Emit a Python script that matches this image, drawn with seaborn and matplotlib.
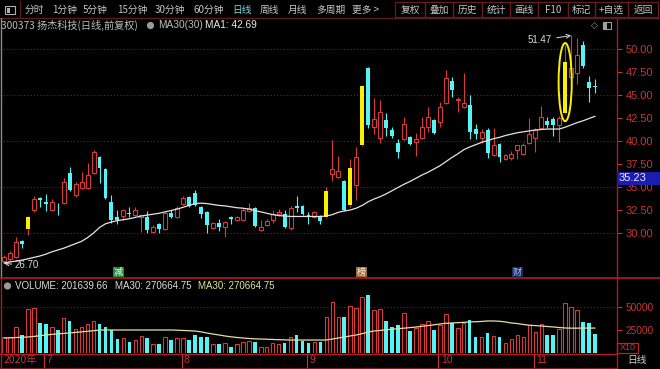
import matplotlib
matplotlib.use("Agg")
import matplotlib.pyplot as plt
from matplotlib.patches import Ellipse, Rectangle, Circle
import seaborn as sns
import numpy as np

# 300373 扬杰科技, daily bars (forward adjusted), late Jun .. mid Nov 2020
opens = [27.0, 27.2, 27.4, 29.1, 30.4, 32.5, 33.8, 33.4, 32.5, 33.2,
         33.3, 36.5, 34.1, 34.9, 34.9, 36.5, 38.3, 37.0, 33.4, 31.7,
         31.8, 32.2, 32.0, 31.7, 31.7, 30.1, 31.0, 30.4, 32.2, 31.7,
         33.1, 33.9, 34.4, 32.8, 32.3, 30.5, 31.1, 30.7, 31.7, 31.4,
         31.4, 32.4, 32.7, 30.3, 30.9, 31.4, 32.1, 32.1, 30.5, 32.9,
         32.9, 32.0, 31.7, 31.9, 31.7, 36.4, 36.1, 35.7, 33.0, 35.2,
         39.6, 47.9, 41.5, 40.3, 42.3, 41.2, 39.8, 40.2, 40.4, 39.9,
         40.3, 41.5, 42.3, 42.1, 44.1, 46.5, 44.5, 43.7, 43.9, 41.3,
         40.3, 41.2, 38.5, 39.7, 38.0, 38.2, 39.0, 38.6, 39.8, 40.3,
         41.4, 42.2, 42.4, 41.7, 43.0, 47.0, 47.4, 50.4, 46.4, 46.0]
closes = [27.4, 27.8, 29.0, 28.8, 31.7, 33.7, 33.6, 33.2, 33.4, 33.1,
          35.5, 34.7, 35.3, 35.5, 36.3, 38.8, 37.1, 33.8, 31.4, 31.4,
          32.5, 32.1, 32.5, 31.95, 30.3, 30.7, 30.4, 32.2, 31.7, 32.7,
          33.8, 32.9, 33.0, 32.1, 30.9, 31.1, 30.7, 31.2, 31.5, 31.7,
          32.5, 32.7, 30.8, 30.65, 31.3, 32.1, 32.3, 30.7, 32.7, 32.7,
          32.1, 31.7, 32.3, 31.3, 34.6, 37.0, 36.7, 32.5, 37.1, 38.3,
          46.0, 41.7, 42.4, 43.2, 41.4, 40.5, 38.8, 41.8, 39.7, 40.2,
          41.5, 42.6, 40.9, 43.7, 46.8, 45.5, 44.6, 44.1, 41.0, 40.8,
          41.0, 38.7, 39.6, 38.3, 38.5, 38.6, 39.6, 39.6, 40.8, 41.2,
          42.6, 41.7, 41.7, 42.5, 48.6, 47.9, 49.3, 48.2, 45.8, 45.9]
highs = [27.6, 28.0, 29.6, 29.2, 31.8, 34.0, 33.9, 34.2, 33.7, 33.3,
         36.0, 37.2, 35.5, 36.6, 37.6, 39.0, 38.4, 37.1, 34.1, 32.5,
         32.6, 32.8, 32.8, 32.0, 32.4, 30.9, 31.1, 32.3, 32.5, 32.9,
         34.0, 34.0, 34.7, 32.9, 32.4, 31.2, 31.5, 31.3, 31.8, 31.8,
         32.7, 33.3, 32.8, 31.4, 31.5, 32.5, 32.6, 32.5, 32.9, 34.0,
         33.0, 32.3, 32.4, 32.0, 35.0, 40.1, 38.4, 35.8, 38.0, 39.3,
         46.1, 48.0, 44.7, 44.5, 43.0, 41.5, 40.2, 42.6, 40.5, 40.9,
         42.6, 43.7, 42.4, 44.2, 47.7, 47.0, 44.8, 47.4, 45.0, 41.8,
         41.3, 41.4, 41.4, 39.8, 38.6, 38.9, 39.6, 39.8, 42.5, 41.4,
         43.8, 42.6, 42.6, 42.7, 50.4, 51.47, 51.2, 50.9, 47.1, 46.7]
lows = [26.70, 27.0, 27.3, 28.4, 29.8, 32.3, 32.8, 32.4, 32.4, 32.0,
        33.2, 34.6, 33.9, 34.8, 34.8, 36.4, 35.4, 33.7, 31.1, 31.0,
        31.4, 31.7, 31.9, 30.1, 30.0, 30.0, 30.0, 30.3, 31.6, 31.6,
        33.0, 32.8, 32.9, 31.6, 30.0, 30.4, 30.2, 29.6, 31.0, 31.3,
        31.3, 32.3, 30.7, 30.2, 30.8, 31.1, 31.8, 30.6, 30.3, 32.3,
        32.0, 31.0, 31.6, 31.0, 31.6, 35.7, 36.0, 32.4, 32.8, 33.6,
        39.5, 41.4, 40.8, 39.8, 40.5, 40.3, 38.2, 40.1, 39.6, 38.4,
        40.2, 41.0, 40.8, 41.5, 44.0, 44.8, 43.1, 43.6, 40.2, 40.2,
        39.8, 38.1, 38.4, 37.7, 37.9, 37.9, 38.0, 38.5, 39.7, 38.8,
        41.3, 41.4, 40.5, 39.9, 42.9, 45.0, 46.2, 47.9, 44.2, 45.2]
# bars the terminal paints yellow
yellow_days = [4, 54, 58, 60, 94]

ma30 = [26.74, 26.85, 26.95, 27.05, 27.2, 27.35, 27.5, 27.7, 27.95, 28.15,
        28.35, 28.6, 28.85, 29.1, 29.5, 30.0, 30.6, 31.0, 31.2, 31.35,
        31.45, 31.55, 31.7, 31.85, 31.95, 32.05, 32.15, 32.3, 32.45, 32.6,
        32.8, 33.0, 33.2, 33.25, 33.2, 33.1, 33.0, 32.95, 32.85, 32.75,
        32.7, 32.6, 32.45, 32.3, 32.15, 32.0, 31.9, 31.85, 31.8, 31.8,
        31.8, 31.8, 31.8, 31.8, 31.85, 32.0, 32.25, 32.4, 32.5, 32.7,
        33.0, 33.4, 33.7, 33.95, 34.25, 34.6, 34.95, 35.3, 35.6, 35.95,
        36.3, 36.6, 36.95, 37.3, 37.75, 38.2, 38.6, 39.05, 39.35, 39.6,
        39.85, 40.05, 40.25, 40.4, 40.6, 40.75, 40.9, 41.0, 41.1, 41.2,
        41.25, 41.3, 41.3, 41.3, 41.5, 41.75, 42.0, 42.2, 42.45, 42.69]

# volume in units of 10 shares (axis shows X10)
volume = [17700, 17700, 28600, 19600, 47500, 48600, 32300, 31500, 27900, 25000,
          37700, 34800, 25700, 28600, 31200, 34800, 31500, 27900, 25000, 14900,
          16000, 12300, 14100, 18500, 16000, 9800, 9800, 17700, 14100, 16000,
          16000, 14100, 19600, 17700, 17700, 9800, 9800, 11200, 6900, 9800,
          12300, 13400, 12300, 6900, 6900, 10500, 9800, 11200, 17700, 19600,
          13400, 11200, 12300, 12300, 39500, 55100, 39500, 39500, 51100, 48600,
          60500, 63000, 46700, 47500, 35100, 27900, 30400, 43100, 24300, 26800,
          31500, 35100, 25000, 30400, 42400, 33000, 26800, 33000, 35900, 17700,
          17700, 22100, 18500, 17000, 11200, 14900, 19600, 17000, 30400, 23200,
          31500, 19600, 19600, 25700, 54000, 49700, 46700, 34000, 33000, 20164]
vol_ma30 = [16300, 16500, 16800, 17100, 17400, 18000, 18800, 19600, 20200, 20800,
            21300, 21800, 22400, 23000, 23600, 24200, 25000, 25000, 25000, 25000,
            25000, 25000, 25000, 25000, 25000, 25000, 25000, 25000, 25000, 24800,
            24500, 24200, 23900, 23000, 21700, 20600, 19600, 18500, 17600, 16900,
            16300, 15800, 15400, 15200, 15000, 14700, 14500, 14300, 14100, 14100,
            14100, 14100, 14100, 14100, 14100, 15200, 16300, 17400, 18500, 19600,
            21000, 22800, 23900, 24500, 25200, 25800, 26400, 27000, 27600, 28200,
            29000, 29800, 30600, 31500, 32300, 32600, 33000, 33300, 33700, 34000,
            34300, 34800, 34800, 34500, 33700, 32600, 32000, 31000, 30200, 29800,
            29300, 28800, 28300, 27700, 27200, 27000, 27000, 27100, 27100, 27066]

month_start = [7, 30, 51, 73, 89]
month_labels = ["7", "8", "9", "10", "11"]
price_ticks = [30.0, 32.5, 35.0, 37.5, 40.0, 42.5, 45.0, 47.5, 50.0]
price_grid = [30, 35, 40, 45, 50]
vol_ticks = [25000, 50000]

toolbar_left = ["分时", "1分钟", "5分钟", "15分钟", "30分钟", "60分钟", "日线", "周线", "月线", "多周期", "更多 >"]
toolbar_right = ["复权", "叠加", "历史", "统计", "画线", "F10", "标记", "+自选", "返回"]

BG = "black"
RED = "#d63a3a"
CYAN = "#52f4f4"
YELLOW = "#f8f000"
GRID_RED = "#7a1c1c"
AXIS_RED = "#c83434"
CJK = ["Noto Sans CJK SC", "DejaVu Sans"]
NUM = ["Liberation Sans", "DejaVu Sans"]

sns.set_theme(style="dark", rc={"axes.facecolor": BG, "figure.facecolor": BG,
                                "savefig.facecolor": BG})
plt.rcParams["font.family"] = CJK

W, H = 660, 369


def box(x0, y0, x1, y1):
    return [x0 / W, 1 - y1 / H, (x1 - x0) / W, (y1 - y0) / H]


fig = plt.figure(figsize=(W / 100, H / 100), dpi=100)
ax_p = fig.add_axes(box(0, 18, 617, 277))
ax_v = fig.add_axes(box(0, 277, 617, 353), sharex=ax_p)
ax_d = fig.add_axes(box(0, 353, 617, 369), sharex=ax_p)
ov = fig.add_axes([0, 0, 1, 1], zorder=10)
ov.set_xlim(0, W)
ov.set_ylim(H, 0)
ov.axis("off")
ov.patch.set_alpha(0)

x = np.arange(len(closes))
o, h, l, c = (np.array(a) for a in (opens, highs, lows, closes))
lo = np.minimum(o, c)
hi = np.maximum(o, c)
bh = np.maximum(hi - lo, 0.08)
is_y = np.isin(x, yellow_days)
up = (c >= o) & ~is_y
dn = (c < o) & ~is_y
bw = 0.66

# ---- price panel
for lev in price_grid:
    ax_p.axhline(lev, color=GRID_RED, lw=0.8, ls=(0, (1, 2)), zorder=0)

# wicks
red_w = up | is_y
ax_p.vlines(x[red_w], l[red_w], lo[red_w], color=RED, lw=0.8, zorder=2)
ax_p.vlines(x[red_w], hi[red_w], h[red_w], color=RED, lw=0.8, zorder=2)
ax_p.vlines(x[dn], l[dn], h[dn], color=CYAN, lw=0.8, zorder=2)
# bodies
ax_p.bar(x[up], bh[up], bottom=lo[up], width=bw, facecolor=BG, edgecolor=RED, lw=0.8, zorder=3)
ax_p.bar(x[dn], bh[dn], bottom=lo[dn], width=bw, color=CYAN, lw=0, zorder=3)
ax_p.bar(x[is_y], bh[is_y], bottom=lo[is_y], width=bw, color=YELLOW, lw=0, zorder=3)

sns.lineplot(x=x, y=ma30, ax=ax_p, color="#e4e4e4", lw=0.9, zorder=4)

ax_p.set_xlim(-0.67, 102.68)
ax_p.set_ylim(25.22, 53.37)

i_hi = int(np.argmax(h))
ax_p.annotate(f"{h[i_hi]:.2f}", xy=(i_hi, h[i_hi]), xytext=(-19, -5), textcoords="offset pixels",
              ha="right", va="center", color="#d8d8d8", fontsize=7, family=NUM,
              arrowprops=dict(arrowstyle="->", color="#d8d8d8", lw=0.7, shrinkA=1, shrinkB=0))
i_lo = int(np.argmin(l))
ax_p.annotate(f"{l[i_lo]:.2f}", xy=(i_lo, l[i_lo]), xytext=(11, -2), textcoords="offset pixels",
              ha="left", va="center", color="#d8d8d8", fontsize=7, family=NUM,
              arrowprops=dict(arrowstyle="->", color="#d8d8d8", lw=0.7, shrinkA=0, shrinkB=0))
ax_p.add_patch(Ellipse((yellow_days[-1], 46.4), width=2.2, height=8.5, fill=False,
                       edgecolor=YELLOW, lw=1.4, zorder=5))

ax_p.yaxis.tick_right()
ax_p.set_yticks(price_ticks)
ax_p.set_yticklabels([f"{t:.2f}" for t in price_ticks], family=NUM)
ax_p.tick_params(axis="y", colors=AXIS_RED, labelsize=8, length=3.5, width=0.8, pad=2.5)
ax_p.tick_params(axis="x", bottom=False, labelbottom=False)

# ---- volume panel
vu = c >= o
ax_v.axhline(vol_ticks[1], color=GRID_RED, lw=0.8, ls=(0, (1, 2)), zorder=0)
vol = np.array(volume)
ax_v.bar(x[vu], vol[vu], width=0.6, facecolor=BG, edgecolor=RED, lw=0.8, zorder=2)
ax_v.bar(x[~vu], vol[~vu], width=0.6, color=CYAN, lw=0, zorder=2)
sns.lineplot(x=x, y=vol_ma30, ax=ax_v, color="#e6e0a0", lw=0.9, zorder=3)
ax_v.set_ylim(0, 82600)
ax_v.yaxis.tick_right()
ax_v.set_yticks(vol_ticks)
ax_v.set_yticklabels([str(t) for t in vol_ticks], family=NUM)
ax_v.tick_params(axis="y", colors=AXIS_RED, labelsize=7.3, length=3.5, width=0.8, pad=2.5)
ax_v.tick_params(axis="x", bottom=False, labelbottom=False)

# ---- date strip
ax_d.set_ylim(1, 0)
ax_d.axis("off")
ax_d.text(-0.1, 0.45, "2020年", color=AXIS_RED, fontsize=7.5, ha="left", va="center")
for m, lab in zip(month_start, month_labels):
    ax_d.vlines(m - 0.25, 0, 1, color=AXIS_RED, lw=0.8)
    ax_d.text(m + 0.15, 0.45, lab, color=AXIS_RED, fontsize=7.5, family=NUM, ha="left", va="center")

for a in (ax_p, ax_v):
    for s in ("top", "left", "bottom"):
        a.spines[s].set_visible(False)
    a.spines["right"].set_color("#a81c1c")
    a.spines["right"].set_linewidth(1.0)
    a.set_xlabel("")
    a.set_ylabel("")

# ---- frame lines and chrome
ov.plot([0, W], [18, 18], color="#5c1c1c", lw=1.0)
ov.plot([0, W], [277.5, 277.5], color="#b01e1e", lw=1.2)
ov.plot([0, 617], [353.5, 353.5], color="#b01e1e", lw=1.0)
ov.plot([0, 617], [368, 368], color="#801818", lw=0.8)
ov.plot([617, 617], [353, 369], color="#a81c1c", lw=1.0)
ov.plot([1, 1], [18, 277], color="#8a8a8a", lw=1.0)
ov.plot([1, 1], [277, 369], color="#a81c1c", lw=1.0)

# toolbar
ov.add_patch(Rectangle((5, 6), 10, 8, fill=False, edgecolor="#b0b0b0", lw=0.8))
ov.add_patch(Rectangle((6.5, 7.5), 3, 5, color="#b0b0b0", lw=0))
ov.plot([20, 20], [1, 17], color="#5c1c1c", lw=0.9)
left_x = [25, 52, 83, 117, 155, 193, 232, 260, 288, 316, 352]
for lab, px in zip(toolbar_left, left_x):
    col = "#7fd6e6" if lab == "日线" else "#c4c4c4"
    ov.text(px, 10, lab, color=col, fontsize=7, ha="left", va="center")
seps = [395, 425, 453, 482, 510, 538, 568, 595, 628, 658]
for a, b in zip(seps[:-1], seps[1:]):
    ov.add_patch(Rectangle((a, 1.5), b - a, 15, fill=False, edgecolor="#6a1c1c", lw=0.9))
for lab, a, b in zip(toolbar_right, seps[:-1], seps[1:]):
    ov.text((a + b) / 2, 10, lab, color="#c4c4c4", fontsize=7, ha="center", va="center")

# title line
ov.text(1, 25.5, "300373 扬杰科技(日线,前复权)", color="#bcbcbc", fontsize=7.3, ha="left", va="center")
ov.add_patch(Circle((150.5, 25.5), 3.6, color="#9a9a9a", lw=0))
ov.text(158, 25.5, "MA30(30)", color="#bcbcbc", fontsize=7.3, family=NUM, ha="left", va="center")
ov.text(205, 25.5, f"MA1: {ma30[-1]:.2f}", color="#e8e8e8", fontsize=7.3, family=NUM, ha="left", va="center")
ov.text(594, 25.5, "◇", color="#a0a0a0", fontsize=6.5, family="DejaVu Sans", ha="center", va="center")
ov.add_patch(Rectangle((603, 22), 8, 7, fill=False, edgecolor="#a0a0a0", lw=0.8))
ov.add_patch(Rectangle((603.5, 22.5), 3, 6, color="#a0a0a0", lw=0))

# current price tag on the axis
ov.add_patch(Rectangle((617, 172), 43, 12.5, color="#1c1cb0", lw=0))
ov.text(619, 178.3, "35.23", color="#e6e6ff", fontsize=8, family=NUM, ha="left", va="center")

# event markers
for txt, px, fc, tc in [("减", 113, "#1f8a3a", "#e8ffe8"), ("榜", 356, "#9c6c3c", "#fff0e0"),
                        ("财", 512, "#1a2a58", "#a8c4ff")]:
    ov.add_patch(Rectangle((px, 267), 11, 10, color=fc, lw=0))
    ov.text(px + 5.5, 272, txt, color=tc, fontsize=6.5, ha="center", va="center")

# volume header
ov.add_patch(Circle((7.5, 286), 3.6, color="#9a9a9a", lw=0))
ov.text(15, 286, "VOLUME: 201639.66", color="#dcdcdc", fontsize=7, family=NUM, ha="left", va="center")
ov.text(115, 286, "MA30: 270664.75", color="#dcdcdc", fontsize=7, family=NUM, ha="left", va="center")
ov.text(198, 286, "MA30: 270664.75", color="#e6e0a0", fontsize=7, family=NUM, ha="left", va="center")

ov.add_patch(Rectangle((617, 343), 21, 9.5, fill=False, edgecolor="#b82424", lw=0.9))
ov.text(627.5, 347.8, "X10", color=AXIS_RED, fontsize=6.5, family=NUM, ha="center", va="center")
ov.text(627, 360.5, "日线", color="#d0d0d0", fontsize=7, ha="left", va="center")

fig.savefig("out.png", dpi=100, facecolor=BG)
